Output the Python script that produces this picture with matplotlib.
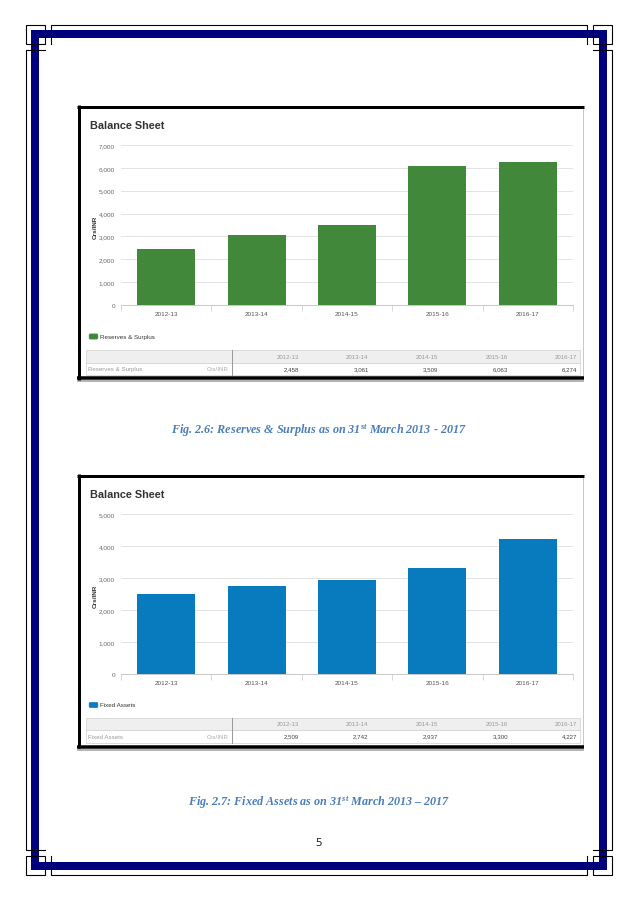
import matplotlib
matplotlib.use('Agg')
import matplotlib.pyplot as plt
from matplotlib.patches import Rectangle, FancyBboxPatch
from matplotlib.ticker import FixedLocator, FuncFormatter

# ---------------- data ----------------
categories = ['2012-13', '2013-14', '2014-15', '2015-16', '2016-17']
reserves_surplus = [2458, 3061, 3509, 6063, 6274]
fixed_assets = [2509, 2742, 2937, 3300, 4227]
rs_yticks = [0, 1000, 2000, 3000, 4000, 5000, 6000, 7000]
fa_yticks = [0, 1000, 2000, 3000, 4000, 5000]
unit_label = 'Crs/INR'
chart_title = 'Balance Sheet'
series1_name = 'Reserves & Surplus'
series1_table_name = 'Reserves & Surplus'
series2_name = 'Fixed Assets'
caption1 = 'Fig. 2.6: Reserves & Surplus as on 31$^{st}$ March 2013 - 2017'
caption2 = 'Fig. 2.7: Fixed Assets as on 31$^{st}$ March 2013 \u2013 2017'
page_number = '5'

# ---------------- styles ----------------
plt.rcParams['mathtext.fontset'] = 'custom'
plt.rcParams['mathtext.it'] = 'Liberation Serif:italic:bold'
plt.rcParams['mathtext.rm'] = 'Liberation Serif:italic:bold'
SANS = ['Liberation Sans', 'DejaVu Sans']
GREEN = '#41883b'
BLUE = '#077bbd'
NAVY = '#00007e'
CAP_COLOR = '#4a7dba'

W, H = 638, 903
fig = plt.figure(figsize=(W / 100, H / 100), dpi=100)
fig.patch.set_facecolor('white')
bg = fig.add_axes([0, 0, 1, 1])
bg.set_xlim(0, W)
bg.set_ylim(H, 0)
bg.axis('off')

PX = 0.72  # points per pixel


def px_axes(x0, y0, x1, y1):
    return fig.add_axes([x0 / W, 1 - y1 / H, (x1 - x0) / W, (y1 - y0) / H])


# ---------------- page border ----------------
bg.add_patch(Rectangle((35, 35), 568, 832, fill=False, edgecolor=NAVY,
                       linewidth=8 * PX, zorder=2))
L, R, T, B = 26, 612, 26, 876
sq = 19
hk = 25
lk = dict(color='black', linewidth=1.1 * PX, zorder=3)
# thin lines with hooks
bg.plot([L + hk, L + hk, R - hk, R - hk], [T + sq, T, T, T + sq], **lk)
bg.plot([L + hk, L + hk, R - hk, R - hk], [B - sq, B, B, B - sq], **lk)
bg.plot([L + sq, L, L, L + sq], [T + hk, T + hk, B - hk, B - hk], **lk)
bg.plot([R - sq, R, R, R - sq], [T + hk, T + hk, B - hk, B - hk], **lk)
for (cx, cy) in [(L, T), (R - sq, T), (L, B - sq), (R - sq, B - sq)]:
    bg.add_patch(Rectangle((cx, cy), sq, sq, fill=False, edgecolor='black',
                           linewidth=1.1 * PX, zorder=3))


# ---------------- chart helpers ----------------
def chart_frame(y_top, y_bot):
    bg.plot([582.5, 582.5], [y_top, y_bot], color='#c8c8c8', linewidth=1 * PX, zorder=3)
    bg.plot([78.5, 78.5], [y_top - 1.5, y_bot + 1.5], color='black', linewidth=3 * PX,
            solid_capstyle='butt', zorder=4)
    bg.plot([77, 583.5], [y_top, y_top], color='black', linewidth=3 * PX,
            solid_capstyle='butt', zorder=4)
    bg.plot([77, 584], [y_bot + 3, y_bot + 3], color='#b5b5b5', linewidth=2 * PX,
            solid_capstyle='butt', zorder=3)
    bg.plot([77, 584], [y_bot, y_bot], color='black', linewidth=3.5 * PX,
            solid_capstyle='butt', zorder=4)


def bar_chart(y_top_px, y_bot_px, values, yticks, color):
    ax = px_axes(121, y_top_px, 573, y_bot_px)
    ax.set_facecolor('none')
    x = list(range(len(categories)))
    ax.bar(x, values, width=0.64, color=color, zorder=3)
    ax.set_xlim(-0.5, len(categories) - 0.5)
    ax.set_ylim(yticks[0], yticks[-1])
    ax.set_yticks(yticks)
    ax.yaxis.set_major_formatter(FuncFormatter(lambda v, p: f'{int(v):,}'))
    ax.set_xticks(x)
    ax.set_xticklabels(categories)
    ax.xaxis.set_minor_locator(FixedLocator([i - 0.5 for i in range(len(categories) + 1)]))
    ax.grid(axis='y', color='#e3e3e3', linewidth=1 * PX, zorder=0)
    for s in ['top', 'right', 'left']:
        ax.spines[s].set_visible(False)
    ax.spines['bottom'].set_color('#c9c9c9')
    ax.spines['bottom'].set_linewidth(1 * PX)
    ax.tick_params(axis='y', length=0, pad=4.2, labelsize=4.6, labelcolor='#666666')
    ax.tick_params(axis='x', which='major', length=0, pad=4.5, labelsize=4.6,
                   labelcolor='#555555')
    ax.tick_params(axis='x', which='minor', length=4, width=0.7 * PX, color='#c9c9c9')
    for lab in ax.get_xticklabels() + ax.get_yticklabels():
        lab.set_fontfamily(SANS)
    return ax


def legend_and_table(y_leg, y_tab, name, table_name, values, color):
    bg.add_patch(FancyBboxPatch((89.5, y_leg - 2.2), 8, 4.4,
                                boxstyle='round,pad=0.4,rounding_size=1.2',
                                facecolor=color, edgecolor=color, linewidth=0.4, zorder=5))
    bg.text(100.5, y_leg, name, fontsize=4.5, color='#333333', va='center', ha='left',
            family=SANS, zorder=5)
    x0, x1, xdiv = 86, 580, 232
    rh = 12.5
    bg.add_patch(Rectangle((x0, y_tab), x1 - x0, rh, facecolor='#efefef',
                           edgecolor='#d0d0d0', linewidth=0.7 * PX, zorder=4))
    bg.add_patch(Rectangle((x0, y_tab + rh), x1 - x0, rh, facecolor='white',
                           edgecolor='#d0d0d0', linewidth=0.7 * PX, zorder=4))
    bg.plot([xdiv, xdiv], [y_tab, y_tab + 2 * rh], color='#9a9a9a', linewidth=1 * PX, zorder=5)
    cw = (x1 - xdiv) / len(categories)
    for i, (cat, v) in enumerate(zip(categories, values)):
        xr = xdiv + cw * (i + 1) - 2.5
        bg.text(xr, y_tab + rh / 2, cat, fontsize=4.4, color='#9a9a9a', ha='right',
                va='center', family=SANS, zorder=6)
        bg.text(xr, y_tab + 1.5 * rh, f'{v:,}', fontsize=4.4, color='#444444', ha='right',
                va='center', family=SANS, zorder=6)
    bg.text(x0 + 2, y_tab + 1.5 * rh, table_name, fontsize=4.4, color='#9a9a9a',
            ha='left', va='center', family=SANS, zorder=6)
    bg.text(xdiv - 3, y_tab + 1.5 * rh, unit_label, fontsize=4.4, color='#aaaaaa',
            ha='right', va='center', family=SANS, zorder=6)


# ---------------- chart 1 ----------------
chart_frame(107.5, 379)
bg.text(90, 126, chart_title, fontsize=7.8, fontweight='bold', color='#333333',
        ha='left', va='center', family=SANS, zorder=5)
bg.text(95, 227, unit_label, fontsize=4.6, fontweight='bold', color='#333333',
        rotation=90, ha='center', va='center', family=SANS, zorder=5)
bar_chart(146, 306, reserves_surplus, rs_yticks, GREEN)
legend_and_table(337.5, 351, series1_name, series1_table_name, reserves_surplus, GREEN)

# ---------------- chart 2 ----------------
chart_frame(476.5, 747.5)
bg.text(90, 495, chart_title, fontsize=7.8, fontweight='bold', color='#333333',
        ha='left', va='center', family=SANS, zorder=5)
bg.text(95, 596, unit_label, fontsize=4.6, fontweight='bold', color='#333333',
        rotation=90, ha='center', va='center', family=SANS, zorder=5)
bar_chart(515, 675, fixed_assets, fa_yticks, BLUE)
legend_and_table(706, 718.5, series2_name, series2_name, fixed_assets, BLUE)

# ---------------- captions ----------------
for cap, yc in [(caption1, 431), (caption2, 803)]:
    bg.text(319, yc, cap, fontsize=8.7, color=CAP_COLOR, ha='center', va='center',
            family='Liberation Serif', fontstyle='italic', fontweight='bold', zorder=5)

bg.text(319, 844, page_number, fontsize=8, color='#111111', ha='center', va='center',
        family=['Open Sans', 'DejaVu Sans'], zorder=5)

fig.savefig('out.png', dpi=100, facecolor='white')
